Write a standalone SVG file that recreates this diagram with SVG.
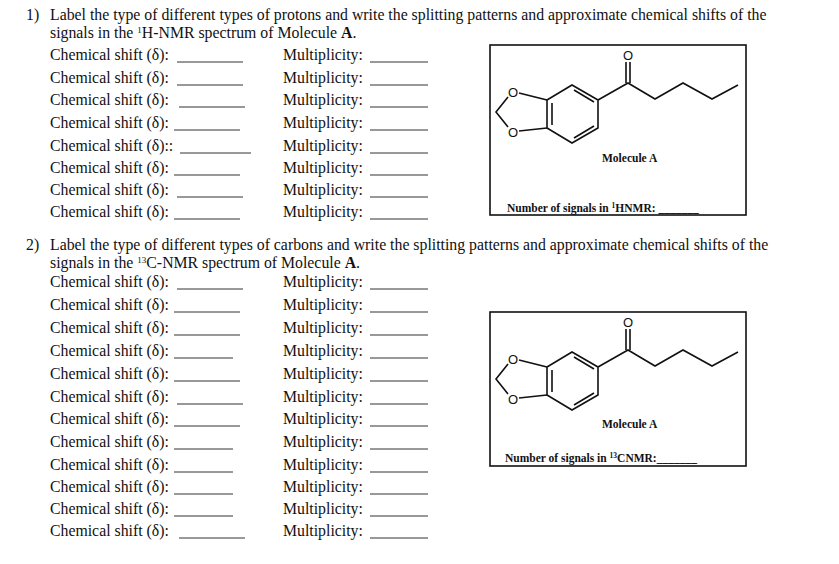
<svg xmlns="http://www.w3.org/2000/svg" width="839" height="564" viewBox="0 0 839 564">
<defs>
<style>
text{font-family:"Liberation Serif","Times New Roman",serif;font-size:15.8px;fill:#111}
.b{stroke:#111;stroke-width:1.6;fill:none}
.m{font-weight:bold;font-size:11.5px}
.o{font-family:"Liberation Sans",Arial,sans-serif;font-size:13px;text-anchor:middle}
.bl{stroke:#333;stroke-width:1}
</style>
<g id="mol">
<path class="b" d="M598,100 L572,85 L547,100 L547,128 L572,143 L598,128 Z"/>
<path class="b" d="M552,103 L552,125 M574,90 L594,102 M574,138 L594,126"/>
<path class="b" d="M547,100 L519,93 M547,128 L519,131 M508,97 L496,112 L508,127"/>
<path class="b" d="M598,100 L628,83 L655,99 L683,83 L712,99 L738,85"/>
<path class="b" d="M626,83 L626,62 M630,83 L630,62"/>
<text class="o" x="513" y="97">O</text>
<text class="o" x="513" y="137">O</text>
<text class="o" x="628" y="60">O</text>
</g>
</defs>
<rect width="839" height="564" fill="#fff"/>
<text x="26" y="20">1)</text><text x="50" y="20">Label the type of different types of protons and write the splitting patterns and approximate chemical shifts of the</text>
<text x="50" y="38">signals in the <tspan font-size="9" dy="-5">1</tspan><tspan dy="5">H-NMR spectrum of Molecule </tspan><tspan font-weight="bold">A</tspan>.</text>
<g id="rows1">
<text x="50" y="60">Chemical shift (δ):</text><text x="283" y="60">Multiplicity:</text>
<text x="50" y="83">Chemical shift (δ):</text><text x="283" y="83">Multiplicity:</text>
<text x="50" y="105">Chemical shift (δ):</text><text x="283" y="105">Multiplicity:</text>
<text x="50" y="128">Chemical shift (δ):</text><text x="283" y="128">Multiplicity:</text>
<text x="50" y="151">Chemical shift (δ)::</text><text x="283" y="151">Multiplicity:</text>
<text x="50" y="173">Chemical shift (δ):</text><text x="283" y="173">Multiplicity:</text>
<text x="50" y="195">Chemical shift (δ):</text><text x="283" y="195">Multiplicity:</text>
<text x="50" y="217">Chemical shift (δ):</text><text x="283" y="217">Multiplicity:</text>
<path class="bl" d="M177,62H243M177,85H243M179,107H245M174,130H240M180,153H251M174,175H240M177,197H243M174,219H240
M370,62H428M370,85H428M370,107H428M370,130H428M370,153H428M370,175H428M370,197H428M370,219H428"/>
</g>
<g id="box1">
<rect class="b" x="490" y="45" width="256" height="170"/>
<use href="#mol"/>
<text class="m" x="602" y="162">Molecule A</text>
<text class="m" x="507" y="212">Number of signals in <tspan font-size="7.5" dy="-4">1</tspan><tspan dy="4">HNMR: _______</tspan></text>
</g>
<text x="26" y="250">2)</text><text x="50" y="250">Label the type of different types of carbons and write the splitting patterns and approximate chemical shifts of the</text>
<text x="50" y="268">signals in the <tspan font-size="9" dy="-5">13</tspan><tspan dy="5">C-NMR spectrum of Molecule </tspan><tspan font-weight="bold">A</tspan>.</text>
<g id="rows2">
<text x="50" y="287">Chemical shift (δ):</text><text x="283" y="287">Multiplicity:</text>
<text x="50" y="310">Chemical shift (δ):</text><text x="283" y="310">Multiplicity:</text>
<text x="50" y="333">Chemical shift (δ):</text><text x="283" y="333">Multiplicity:</text>
<text x="50" y="356">Chemical shift (δ):</text><text x="283" y="356">Multiplicity:</text>
<text x="50" y="379">Chemical shift (δ):</text><text x="283" y="379">Multiplicity:</text>
<text x="50" y="402">Chemical shift (δ):</text><text x="283" y="402">Multiplicity:</text>
<text x="50" y="424">Chemical shift (δ):</text><text x="283" y="424">Multiplicity:</text>
<text x="50" y="447">Chemical shift (δ):</text><text x="283" y="447">Multiplicity:</text>
<text x="50" y="470">Chemical shift (δ):</text><text x="283" y="470">Multiplicity:</text>
<text x="50" y="492">Chemical shift (δ):</text><text x="283" y="492">Multiplicity:</text>
<text x="50" y="514">Chemical shift (δ):</text><text x="283" y="514">Multiplicity:</text>
<text x="50" y="536">Chemical shift (δ):</text><text x="283" y="536">Multiplicity:</text>
<path class="bl" d="M177,289H243M174,312H240M174,335H240M174,358H233M174,381H240M177,404H243M174,426H240M174,449H233M174,472H233M174,494H233M174,516H233M179,538H245
M370,289H428M370,312H428M370,335H428M370,358H428M370,381H428M370,404H428M370,426H428M370,449H428M370,472H428M370,494H428M370,516H428M370,538H428"/>
</g>
<g id="box2">
<rect class="b" x="490" y="312" width="256" height="154"/>
<use href="#mol" transform="translate(0,267)"/>
<text class="m" x="602" y="428">Molecule A</text>
<text class="m" x="505" y="462">Number of signals in <tspan font-size="7.5" dy="-4">13</tspan><tspan dy="4">CNMR:_______</tspan></text>
</g>
</svg>
